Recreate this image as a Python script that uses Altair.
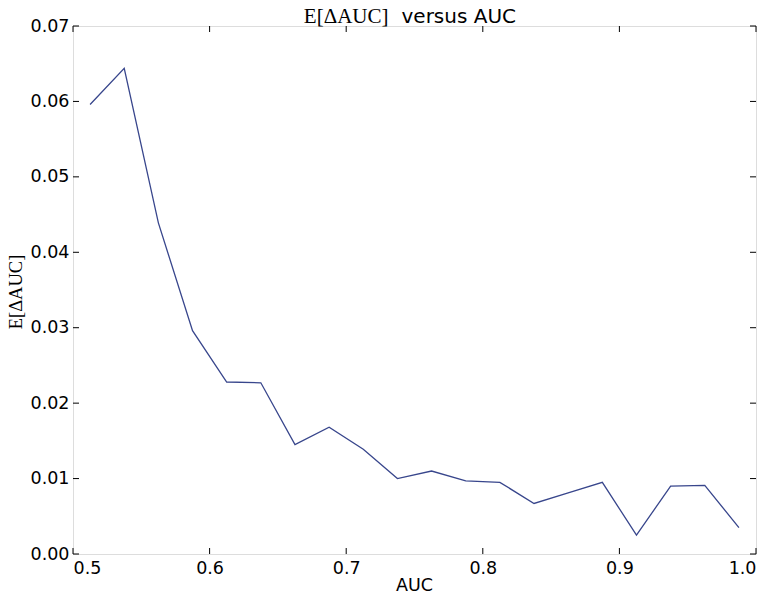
import altair as alt
import pandas as pd

auc = [0.5125, 0.5375, 0.5625, 0.5875, 0.6125, 0.6375, 0.6625, 0.6875, 0.7125, 0.7375,
       0.7625, 0.7875, 0.8125, 0.8375, 0.8625, 0.8875, 0.9125, 0.9375, 0.9625, 0.9875]
delta_auc = [0.0596, 0.0644, 0.0439, 0.0296, 0.0228, 0.0227, 0.0145, 0.0168, 0.0139, 0.0100,
             0.0110, 0.0097, 0.0095, 0.0067, 0.0081, 0.0095, 0.0025, 0.0090, 0.0091, 0.0035]
x_ticks = [0.5, 0.6, 0.7, 0.8, 0.9, 1.0]
y_ticks = [0.00, 0.01, 0.02, 0.03, 0.04, 0.05, 0.06, 0.07]
title_math = "E[ΔAUC]"
title_rest = "versus AUC"
x_title = "AUC"
y_title = "E[ΔAUC]"

W, H = 683, 528
TICK = 6
LINE_COLOR = "#38468c"

df = pd.DataFrame({"auc": auc, "delta": delta_auc})
xt = pd.DataFrame({"v": x_ticks})
yt = pd.DataFrame({"v": y_ticks})

xs = alt.Scale(domain=[0.5, 1.0], nice=False, zero=False)
ys = alt.Scale(domain=[0.0, 0.07], nice=False)

x_axis = alt.Axis(values=x_ticks, format=".1f", tickSize=0, grid=False, labelFontSize=17.5,
                  labelFont="DejaVu Sans", labelColor="black", labelPadding=5,
                  domain=False, title=None)
y_axis = alt.Axis(values=y_ticks, format=".2f", tickSize=0, grid=False, labelFontSize=17.5,
                  labelFont="DejaVu Sans", labelColor="black", labelPadding=4,
                  domain=False, title=None)

line = alt.Chart(df).mark_line(color=LINE_COLOR, strokeWidth=1.3).encode(
    x=alt.X("auc:Q", scale=xs, axis=x_axis),
    y=alt.Y("delta:Q", scale=ys, axis=y_axis),
)

tick_style = dict(color="black", strokeWidth=1)
bx = alt.Chart(xt).mark_rule(**tick_style).encode(
    x=alt.X("v:Q", scale=xs), y=alt.value(H), y2=alt.value(H - TICK))
tx = alt.Chart(xt).mark_rule(**tick_style).encode(
    x=alt.X("v:Q", scale=xs), y=alt.value(0), y2=alt.value(TICK))
ly = alt.Chart(yt).mark_rule(**tick_style).encode(
    y=alt.Y("v:Q", scale=ys), x=alt.value(0), x2=alt.value(TICK))
ry = alt.Chart(yt).mark_rule(**tick_style).encode(
    y=alt.Y("v:Q", scale=ys), x=alt.value(W), x2=alt.value(W - TICK))

lbl = pd.DataFrame({"a": [title_math], "b": [title_rest], "xt": [x_title], "yt": [y_title]})
t1 = alt.Chart(lbl).mark_text(font="Liberation Serif", fontSize=21, align="right",
                              baseline="alphabetic", color="black").encode(
    text="a:N", x=alt.value(W / 2 - 26), y=alt.value(-3))
t2 = alt.Chart(lbl).mark_text(font="DejaVu Sans", fontSize=20, align="left",
                              baseline="alphabetic", color="black").encode(
    text="b:N", x=alt.value(W / 2 - 13), y=alt.value(-3))
t3 = alt.Chart(lbl).mark_text(font="DejaVu Sans", fontSize=17.5, align="center",
                              baseline="alphabetic", color="black").encode(
    text="xt:N", x=alt.value(W / 2), y=alt.value(H + 37))
t4 = alt.Chart(lbl).mark_text(font="Liberation Serif", fontSize=18.5, align="center",
                              baseline="alphabetic", color="black", angle=270).encode(
    text="yt:N", x=alt.value(-51), y=alt.value(H / 2 + 2))

chart = alt.layer(line, bx, tx, ly, ry, t1, t2, t3, t4).properties(
    width=W, height=H,
    autosize=alt.AutoSizeParams(type="none"),
    padding={"left": 65, "top": 18, "right": 5, "bottom": 41},
).configure_view(stroke="black", strokeWidth=1.2).configure(background="white")

chart.save("out.html", embed_options={"renderer": "svg", "actions": False})
